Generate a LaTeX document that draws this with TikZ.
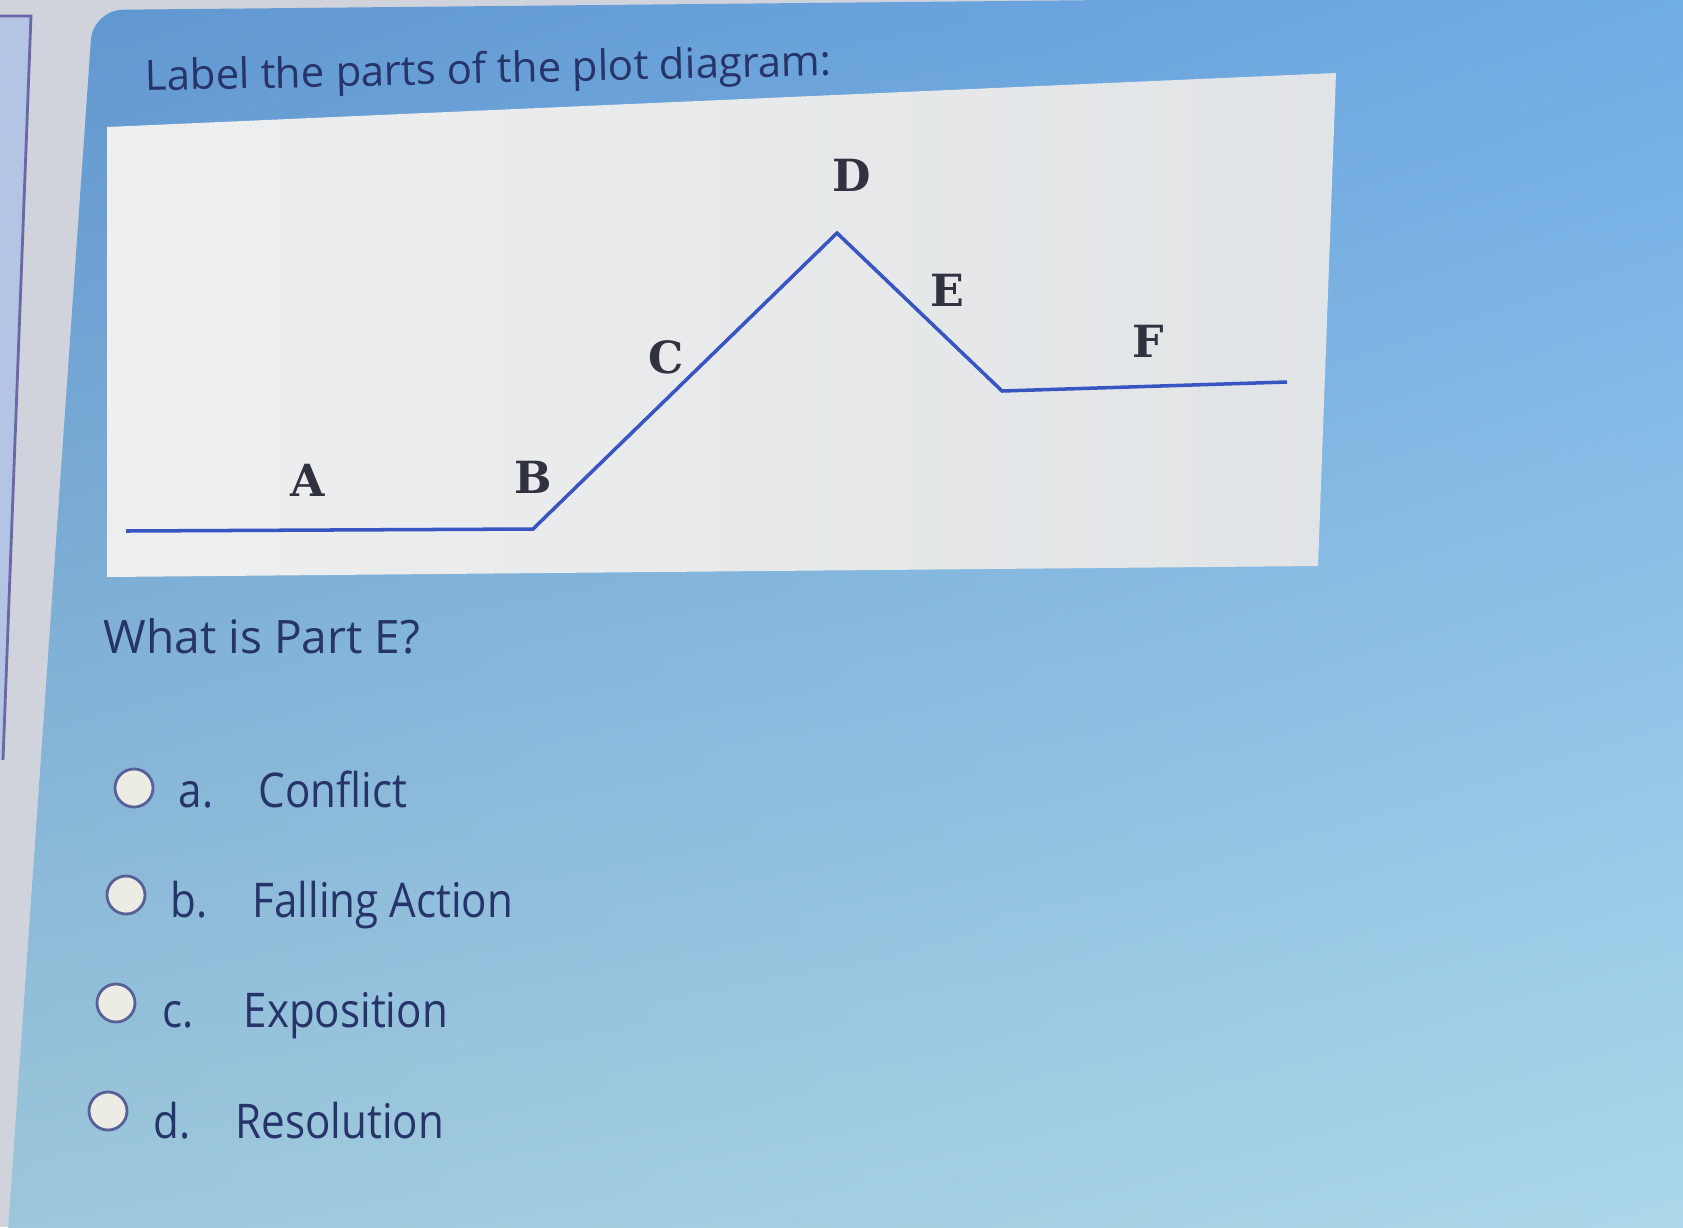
\documentclass[tikz,border=0pt]{standalone}
\usepackage{fontspec}
\usetikzlibrary{shadings}
\newfontfamily\headfont{Open Sans}
\newfontfamily\choicefont[FakeStretch=0.88]{Open Sans}
\newfontfamily\partfont{DejaVu Serif}
\definecolor{screengray}{RGB}{208,211,220}
\definecolor{boxfill}{RGB}{180,196,228}
\definecolor{boxline}{RGB}{105,105,165}
\definecolor{bgul}{RGB}{96,150,208}
\definecolor{bgur}{RGB}{112,172,230}
\definecolor{bgll}{RGB}{158,200,218}
\definecolor{bglr}{RGB}{174,217,234}
\definecolor{paperleft}{RGB}{238,239,240}
\definecolor{paperright}{RGB}{225,228,230}
\definecolor{plotblue}{RGB}{55,85,195}
\definecolor{partgray}{RGB}{48,50,64}
\definecolor{textnavy}{RGB}{38,52,105}
\definecolor{radioline}{RGB}{88,96,152}
\definecolor{radiofill}{RGB}{236,236,228}
\tikzstyle{part} = [font=\partfont\bfseries\fontsize{12.6}{14}\selectfont, text=partgray, inner sep=0pt]
\tikzstyle{plotline} = [draw=plotblue, line width=1pt, line join=miter]
\tikzstyle{radio} = [circle, minimum size=.38cm, inner sep=0pt, draw=radioline, line width=.8pt, fill=radiofill]
\tikzstyle{choice} = [font=\choicefont\fontsize{13.6}{16}\selectfont, text=textnavy, anchor=base west, inner sep=0pt]
\newcommand{\answer}[6]{%
  \node [radio] (radio#1) at (#2) {};
  \node [choice] (key#1) at (#3,#5) {#1.};
  \node [choice] (txt#1) at (#4,#5) {#6};}

\begin{document}
\begin{tikzpicture}[x=0.01cm, y=-0.01cm]
  \useasboundingbox (0,0) rectangle (1683,1227);
  \clip (0,0) rectangle (1683,1227);
  % screen behind the page
  \fill[screengray] (0,0) rectangle (1683,1227);
  \fill[boxfill] (-5,16) -- (31,16) -- (3,760) -- (-5,760) -- cycle;
  \draw[boxline, line width=.8pt] (-5,16) -- (31,16) -- (3,760);
  % blue page
  \shade[upper left=bgul, upper right=bgur, lower left=bgll, lower right=bglr,
    rounded corners=.3cm] (93,10) -- (1720,-6) -- (1720,1260) -- (6,1260) -- cycle;
  \node[anchor=base west, rotate=1.3, inner sep=0pt, text=textnavy,
    font=\headfont\fontsize{11.9}{14}\selectfont] (title) at (145,91)
    {Label the parts of the plot diagram:};
  % the plot picture
  \shade[left color=paperleft, right color=paperright]
    (107,127) -- (1336,73) -- (1318,566) -- (107,577) -- cycle;
  \coordinate (start) at (126,531);
  \coordinate (incite) at (533,529);
  \coordinate (peak) at (837,233);
  \coordinate (fall) at (1002,391);
  \coordinate (finish) at (1287,382);
  \draw[plotline] (start) -- (incite) -- (peak) -- (fall) -- (finish);
  \node[part] (A) at (308,480) {A};
  \node[part] (B) at (533,477) {B};
  \node[part] (C) at (666,357) {C};
  \node[part] (D) at (852,175) {D};
  \node[part] (E) at (947,290) {E};
  \node[part] (F) at (1148,341) {F};
  % question
  \node[anchor=base west, inner sep=0pt, text=textnavy,
    font=\headfont\fontsize{13.1}{15}\selectfont] (question) at (103,653) {What is Part E?};
  \answer{a}{134,788}{178}{258}{807}{Conflict}
  \answer{b}{126,895}{170}{252}{917}{Falling Action}
  \answer{c}{116,1003}{162}{243}{1027}{Exposition}
  \answer{d}{108,1111}{153}{235}{1138}{Resolution}
\end{tikzpicture}
\end{document}
